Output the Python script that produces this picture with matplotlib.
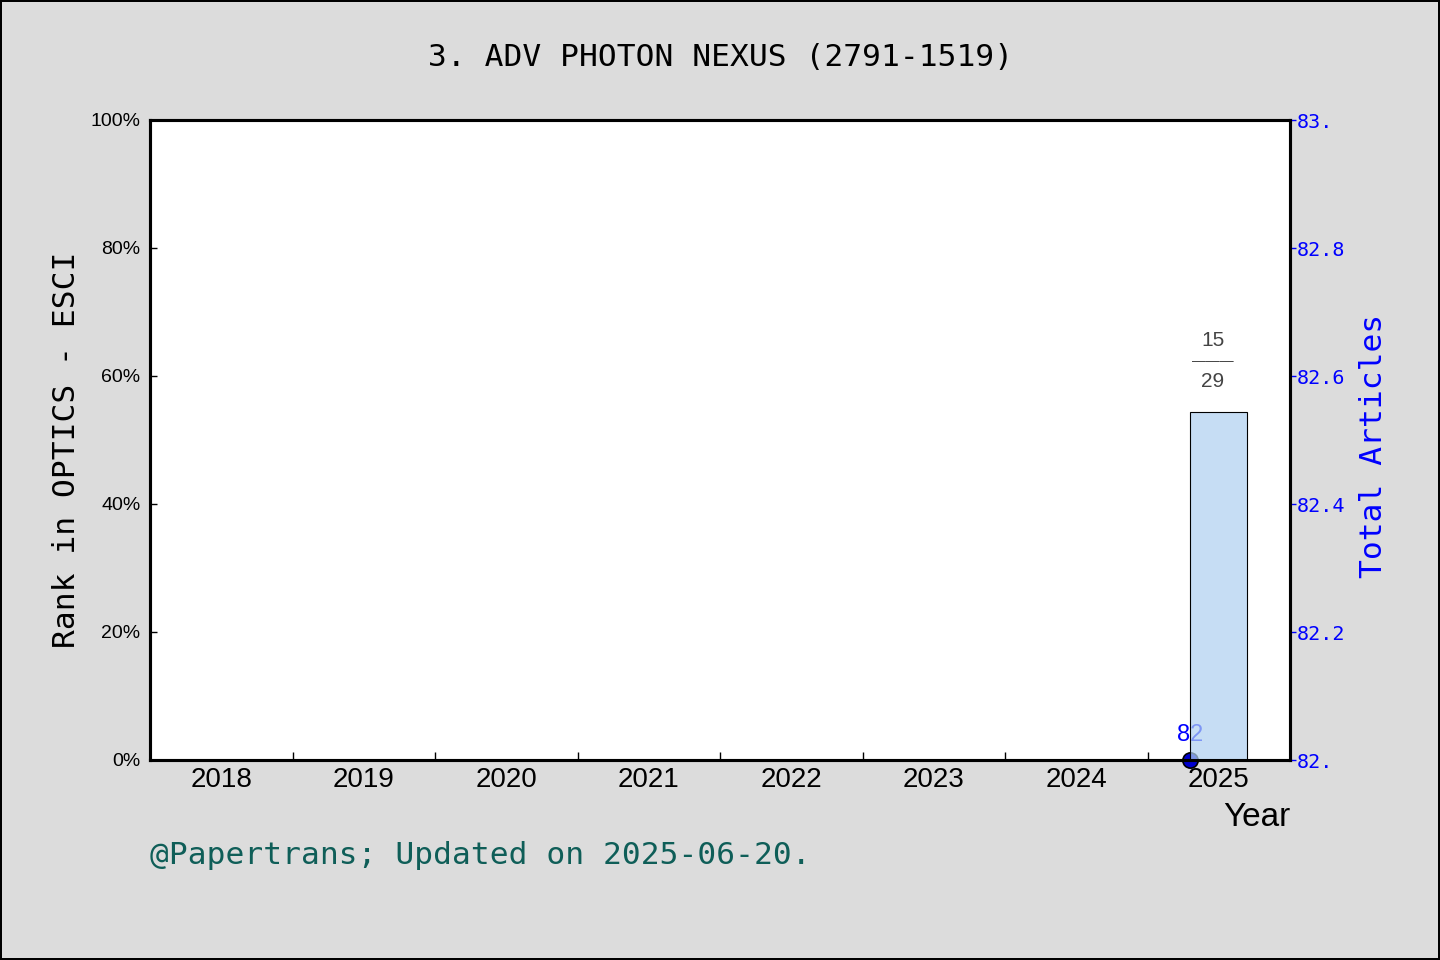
import numpy as np
import matplotlib
matplotlib.use("Agg")
import matplotlib.pyplot as plt
from matplotlib.ticker import FixedLocator

years = ['2018', '2019', '2020', '2021', '2022', '2023', '2024', '2025']
bar_years = ['2025']
bar_values = [54.3]          # percent
rank_num = ['15']
rank_den = ['29']
article_years = ['2025']
total_articles = [82]
left_ticks = [0, 20, 40, 60, 80, 100]
left_ticklabels = ['0%', '20%', '40%', '60%', '80%', '100%']
right_ticks = [82.0, 82.2, 82.4, 82.6, 82.8, 83.0]
right_ticklabels = ['82.', '82.2', '82.4', '82.6', '82.8', '83.']

title = '3. ADV PHOTON NEXUS (2791-1519)'
footer = '@Papertrans; Updated on 2025-06-20.'

MONO = 'DejaVu Sans Mono'
SANS = 'Liberation Sans'

fig = plt.figure(figsize=(14.4, 9.6), dpi=100, facecolor='#dcdcdc',
                 edgecolor='black', linewidth=1.5)
ax2 = fig.add_axes([150/1440, 1-760/960, 1140/1440, 640/960])
ax = ax2.twinx()
# put bar axis on top, line axis below
ax2.set_zorder(1)
ax.set_zorder(2)
ax.patch.set_visible(False)
ax2.set_facecolor('white')
ax.xaxis.set_visible(True)

ax.yaxis.set_label_position('left')
ax.yaxis.tick_left()
ax2.yaxis.set_label_position('right')
ax2.yaxis.tick_right()

xpos = {y: i for i, y in enumerate(years)}
bw = 0.4

ax.bar([xpos[y] for y in bar_years], bar_values, width=bw,
       facecolor=(0.69, 0.82, 0.94, 0.72), edgecolor='black', linewidth=0.8)
for y, v, n, d in zip(bar_years, bar_values, rank_num, rank_den):
    x = xpos[y] - 0.04
    ax.annotate(d, (x, v), xytext=(0, 22), textcoords='offset points',
                ha='center', va='center', fontsize=15, color='#444444', family=SANS)
    ax.annotate('\u2014\u2014\u2014', (x, v), xytext=(0, 37), textcoords='offset points',
                ha='center', va='center', fontsize=10, color='#444444', family=SANS)
    ax.annotate(n, (x, v), xytext=(0, 52), textcoords='offset points',
                ha='center', va='center', fontsize=15, color='#444444', family=SANS)

lx = [xpos[y] - bw/2 for y in article_years]
ax2.plot(lx, total_articles, color='mediumblue', marker='o', markersize=11,
         markerfacecolor='mediumblue', markeredgecolor='black', markeredgewidth=1.2,
         linewidth=2, clip_on=False)
for x, v in zip(lx, total_articles):
    ax2.annotate(str(v), (x, v), xytext=(0, 18), textcoords='offset points',
                 ha='center', va='center', fontsize=17, color='blue', family=SANS)

ax.set_xlim(-0.5, len(years) - 0.5)
ax.set_ylim(0, 100)
ax2.set_ylim(82, 83)

ax.set_yticks(left_ticks)
ax.set_yticklabels(left_ticklabels, family=SANS, fontsize=14)
ax.tick_params(axis='y', direction='in', length=5, width=1, pad=7)

ax2.set_yticks(right_ticks)
ax2.set_yticklabels(right_ticklabels, family=MONO, fontsize=14.5, color='blue')
ax2.tick_params(axis='y', direction='out', length=4, width=1, colors='blue', pad=1)

ax.set_xticks(range(len(years)))
ax.set_xticklabels(years, family=SANS, fontsize=20)
ax.xaxis.set_minor_locator(FixedLocator(np.arange(0.5, len(years) - 0.5, 1)))
ax.tick_params(axis='x', which='major', length=0, pad=5, labelbottom=True, bottom=True)
ax.tick_params(axis='x', which='minor', direction='in', length=6, width=1, bottom=True)
ax2.tick_params(axis='x', which='both', labelbottom=False, bottom=False, length=0)

for a in (ax, ax2):
    for s in a.spines.values():
        s.set_linewidth(2.2)
        s.set_color('black')

fig.text(721/1440, 1-57/960, title, ha='center', va='center', fontsize=22.5, family=MONO)
fig.text(67/1440, 1-450/960, 'Rank in OPTICS - ESCI', rotation=90, ha='center',
         va='center', fontsize=22.5, family=MONO)
fig.text(1373/1440, 1-446/960, 'Total Articles', rotation=90, ha='center',
         va='center', fontsize=22.5, family=MONO, color='blue')
fig.text(1290/1440, 1-817/960, 'Year', ha='right', va='center', fontsize=24, family=SANS)
fig.text(150/1440, 1-855/960, footer, ha='left', va='center', fontsize=22.5,
         family=MONO, color='#0f5e58')

fig.savefig('out.png', dpi=100, facecolor=fig.get_facecolor(), edgecolor='black')
